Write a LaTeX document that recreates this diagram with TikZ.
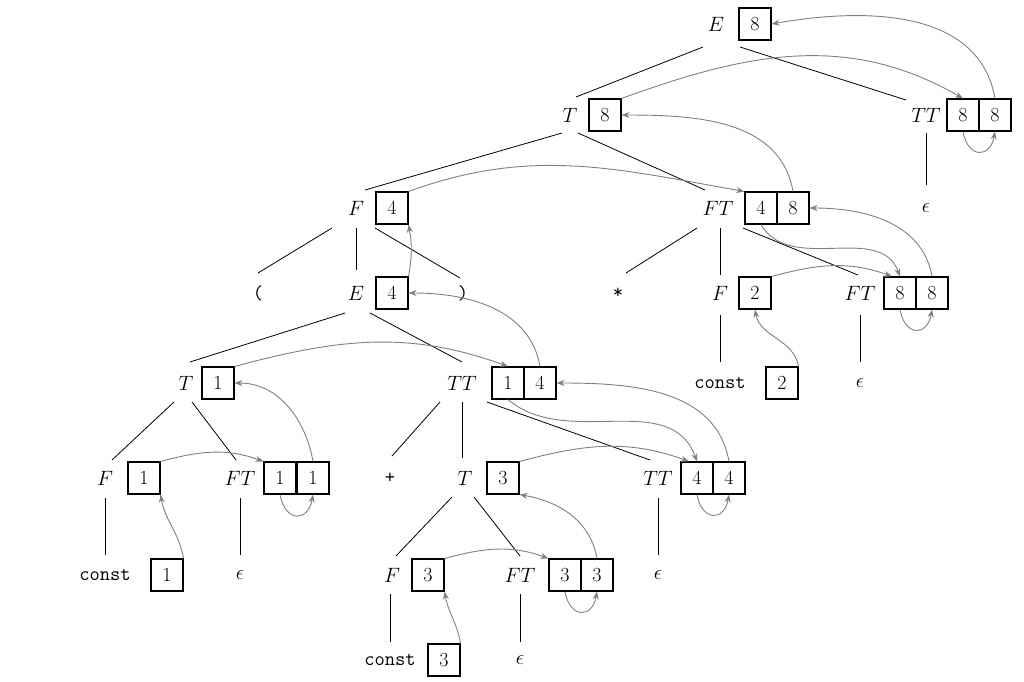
\documentclass[tikz,border=0pt]{standalone}
\usetikzlibrary{arrows.meta}
\begin{document}
\begin{tikzpicture}[x=1pt,y=-1pt,
  every node/.style={font=\fontsize{20}{24}\selectfont},
  lab/.style={inner sep=1pt},
  bx/.style={draw,line width=1.1pt,minimum size=32pt,inner sep=0pt},
  tr/.style={line width=0.8pt},
  lp/.style={looseness=2.2},
  dep/.style={gray,line width=0.9pt,-{Stealth[length=8pt,width=6pt]}}]
\useasboundingbox (0,0) rectangle (1024,681);
% level 0
\node[lab] (E) at (716,24) {$E$}; \node[bx] (Ea) at (755,24) {8};
% level 1
\node[lab] (T) at (570,115) {$T$}; \node[bx] (Ta) at (605,115) {8};
\node[lab] (TT) at (926,115) {$TT$}; \node[bx] (TTa) at (963,115) {8}; \node[bx] (TTb) at (995,115) {8};
% level 2
\node[lab] (F) at (356,208) {$F$}; \node[bx] (Fa) at (392,208) {4};
\node[lab] (FT) at (718,208) {$FT$}; \node[bx] (FTa) at (761,208) {4}; \node[bx] (FTb) at (793,208) {8};
\node[lab] (eps1) at (926,208) {$\epsilon$};
% level 3
\node[lab] (lp) at (258,293) {\texttt{(}};
\node[lab] (E2) at (356,293) {$E$}; \node[bx] (E2a) at (392,293) {4};
\node[lab] (rp) at (463,293) {\texttt{)}};
\node[lab] (st) at (618,293) {\texttt{*}};
\node[lab] (F2) at (720,293) {$F$}; \node[bx] (F2a) at (755,293) {2};
\node[lab] (FT2) at (860,293) {$FT$}; \node[bx] (FT2a) at (900,293) {8}; \node[bx] (FT2b) at (932,293) {8};
% level 4
\node[lab] (T2) at (186,383) {$T$}; \node[bx] (T2a) at (218,383) {1};
\node[lab] (TT2) at (462,383) {$TT$}; \node[bx] (TT2a) at (508,383) {1}; \node[bx] (TT2b) at (540,383) {4};
\node[lab] (c2) at (720,383) {\texttt{const}}; \node[bx] (c2a) at (782,383) {2};
\node[lab] (eps2) at (860,383) {$\epsilon$};
% level 5
\node[lab] (F3) at (105,478) {$F$}; \node[bx] (F3a) at (144,478) {1};
\node[lab] (FT3) at (240,478) {$FT$}; \node[bx] (FT3a) at (280,478) {1}; \node[bx] (FT3b) at (313,478) {1};
\node[lab] (pl) at (390,478) {\texttt{+}};
\node[lab] (T3) at (465,478) {$T$}; \node[bx] (T3a) at (503,478) {3};
\node[lab] (TT3) at (658,478) {$TT$}; \node[bx] (TT3a) at (697,478) {4}; \node[bx] (TT3b) at (729,478) {4};
% level 6
\node[lab] (c3) at (105,575) {\texttt{const}}; \node[bx] (c3a) at (167,575) {1};
\node[lab] (eps3) at (240,575) {$\epsilon$};
\node[lab] (F4) at (392,575) {$F$}; \node[bx] (F4a) at (428,575) {3};
\node[lab] (FT4) at (520,575) {$FT$}; \node[bx] (FT4a) at (565,575) {3}; \node[bx] (FT4b) at (597,575) {3};
\node[lab] (eps4) at (658,575) {$\epsilon$};
% level 7
\node[lab] (c4) at (390,660) {\texttt{const}}; \node[bx] (c4a) at (444,660) {3};
\node[lab] (eps5) at (520,660) {$\epsilon$};
% tree edges
\begin{scope}[tr]
\draw (703,47) -- (576,97); \draw (740,47) -- (906,100);
\draw (926,133) -- (926,185);
\draw (562,133) -- (365,190); \draw (578,133) -- (705,190);
\draw (332,228) -- (258,273); \draw (356,228) -- (356,270); \draw (375,228) -- (460,278);
\draw (697,228) -- (626,273); \draw (720,228) -- (720,275); \draw (743,228) -- (858,275);
\draw (345,313) -- (190,362); \draw (370,313) -- (462,362);
\draw (720,315) -- (720,362); \draw (860,315) -- (860,362);
\draw (174,402) -- (112,460); \draw (192,402) -- (236,460);
\draw (440,402) -- (392,456); \draw (462,402) -- (462,458); \draw (487,402) -- (650,460);
\draw (105,498) -- (105,555); \draw (240,498) -- (240,555);
\draw (452,497) -- (396,556); \draw (474,497) -- (520,556);
\draw (658,498) -- (658,555);
\draw (390,594) -- (390,642); \draw (520,594) -- (520,642);
\end{scope}
% dependency arrows
\draw[dep] (TTb.north) to[out=100,in=10] (Ea.east);
\draw[dep] (Ta.north east) to[out=20,in=150] (TTa.north);
\draw[dep] (TTa.south) to[out=-80,in=-100,lp] (TTb.south);
\draw[dep] (FTb.north) to[out=100,in=0] (Ta.east);
\draw[dep] (Fa.north east) to[out=20,in=170] (FTa.north west);
\draw[dep] (FTa.south) to[out=-60,in=110] (FT2a.north);
\draw[dep] (FT2b.north) to[out=100,in=0] (FTb.east);
\draw[dep] (F2a.north east) to[out=15,in=160] ([xshift=-8pt]FT2a.north);
\draw[dep] (FT2a.south) to[out=-80,in=-100,lp] (FT2b.south);
\draw[dep] (c2a.north east) to[out=100,in=-80] (F2a.south);
\draw[dep] (E2a.north east) to[out=80,in=-80] (Fa.south east);
\draw[dep] (TT2b.north) to[out=100,in=0] (E2a.east);
\draw[dep] (T2a.north east) to[out=15,in=160] (TT2a.north);
\draw[dep] (TT2a.south) to[out=-40,in=110] (TT3a.north);
\draw[dep] (TT3b.north) to[out=100,in=0] (TT2b.east);
\draw[dep] (TT3a.south) to[out=-80,in=-100,lp] (TT3b.south);
\draw[dep] (T3a.north east) to[out=15,in=160] ([xshift=-8pt]TT3a.north);
\draw[dep] (F4a.north east) to[out=15,in=160] (FT4a.north west);
\draw[dep] (FT4b.north) to[out=100,in=-10] (T3a.south east);
\draw[dep] (FT4a.south) to[out=-80,in=-100,lp] (FT4b.south);
\draw[dep] (c4a.north east) to[out=100,in=-80] (F4a.south east);
\draw[dep] (F3a.north east) to[out=15,in=160] (FT3a.north west);
\draw[dep] (FT3b.north) to[out=100,in=0] (T2a.east);
\draw[dep] (FT3a.south) to[out=-80,in=-100,lp] (FT3b.south);
\draw[dep] (c3a.north east) to[out=100,in=-80] (F3a.south east);
\end{tikzpicture}
\end{document}
